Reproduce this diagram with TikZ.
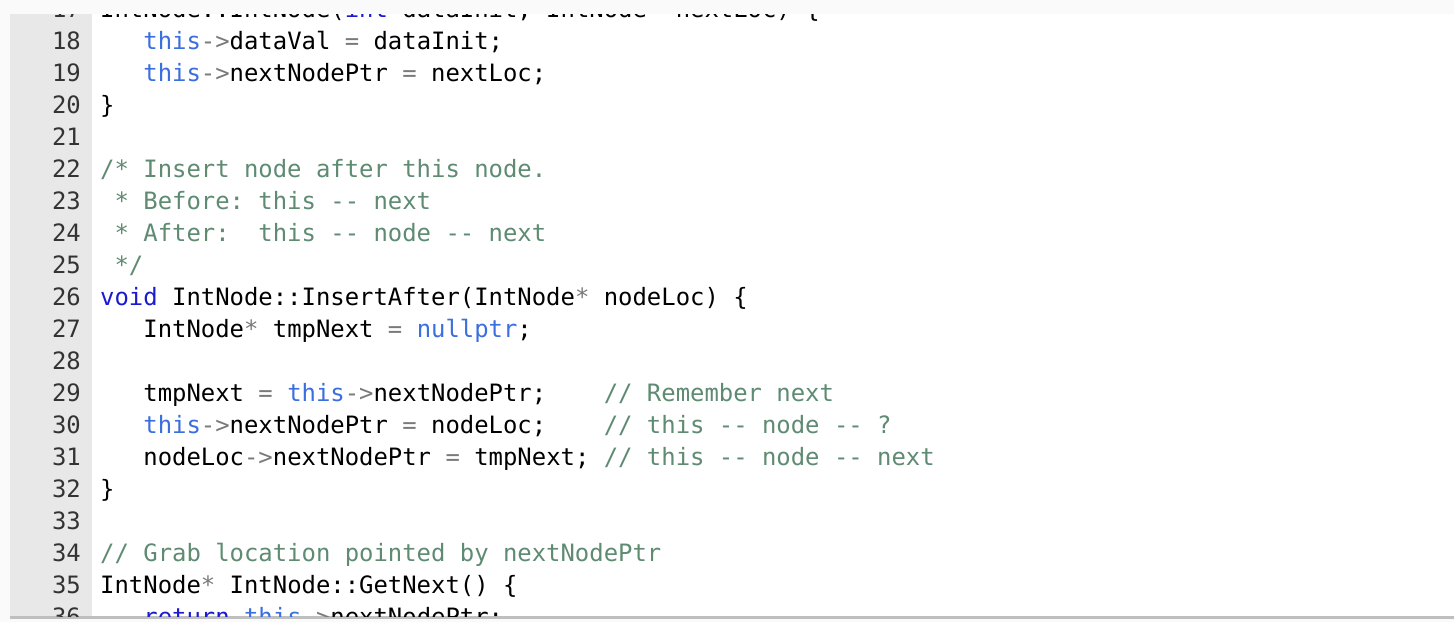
\documentclass[tikz,border=0pt]{standalone}
\usepackage{fontspec}
\newfontfamily\code{DejaVu Sans Mono}
\definecolor{kw}{HTML}{3B6FE0}
\definecolor{kwd}{HTML}{1A1AD0}
\definecolor{opc}{HTML}{7A7A7A}
\definecolor{cmc}{HTML}{5E8B72}
\definecolor{gut}{HTML}{E8E8E8}
\newcommand\kw[1]{\textcolor{kw}{#1}}
\newcommand\kwd[1]{\textcolor{kwd}{#1}}
\newcommand\op[1]{\textcolor{opc}{#1}}
\newcommand\cm[1]{\textcolor{cmc}{#1}}
\begin{document}
\begin{tikzpicture}[x=1pt,y=-1pt,
  codeline/.style={anchor=base west,inner sep=0pt,font=\code\fontsize{23.9}{28}\selectfont},
  numline/.style={anchor=base east,inner sep=0pt,text=black!80,font=\code\fontsize{23.9}{28}\selectfont}]
\useasboundingbox (0,0) rectangle (1454,622);
\fill[black!2] (0,0) rectangle (1454,622);
\fill[black!25] (10,14) rectangle (1454,619);
\fill[white] (10,14) rectangle (1454,616);
\fill[gut] (10,14) rectangle (92,616);
\begin{scope}
\clip (10,14) rectangle (1454,616);
\foreach \n/\t in {
17/{IntNode::IntNode(\kwd{int}~dataInit,~IntNode\op{*}~nextLoc)~\{},
18/{~~~\kw{this}\op{->}dataVal~\op{=}~dataInit;},
19/{~~~\kw{this}\op{->}nextNodePtr~\op{=}~nextLoc;},
20/{\}},
21/{},
22/{\cm{/*~Insert~node~after~this~node.}},
23/{\cm{~*~Before:~this~-{}-~next}},
24/{\cm{~*~After:~~this~-{}-~node~-{}-~next}},
25/{\cm{~*/}},
26/{\kwd{void}~IntNode::InsertAfter(IntNode\op{*}~nodeLoc)~\{},
27/{~~~IntNode\op{*}~tmpNext~\op{=}~\kw{nullptr};},
28/{},
29/{~~~tmpNext~\op{=}~\kw{this}\op{->}nextNodePtr;~~~~\cm{//~Remember~next}},
30/{~~~\kw{this}\op{->}nextNodePtr~\op{=}~nodeLoc;~~~~\cm{//~this~-{}-~node~-{}-~?}},
31/{~~~nodeLoc\op{->}nextNodePtr~\op{=}~tmpNext;~\cm{//~this~-{}-~node~-{}-~next}},
32/{\}},
33/{},
34/{\cm{//~Grab~location~pointed~by~nextNodePtr}},
35/{IntNode\op{*}~IntNode::GetNext()~\{},
36/{~~~\kwd{return}~\kw{this}\op{->}nextNodePtr;}}{
  \pgfmathsetmacro\yy{49+32*(\n-18)}
  \node[numline] (n\n) at (81,\yy) {\n};
  \node[codeline] (c\n) at (100,\yy) {\strut\t};
}
\end{scope}
\end{tikzpicture}
\end{document}
